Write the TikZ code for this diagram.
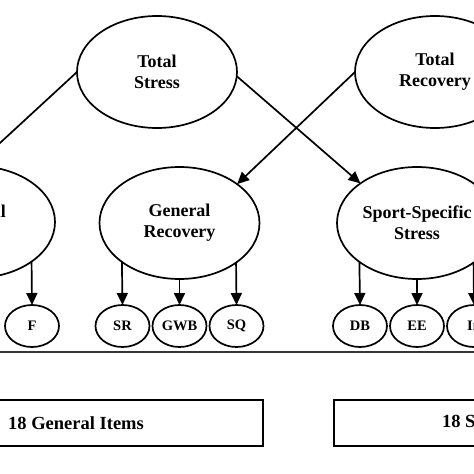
\documentclass[tikz,border=0pt]{standalone}
\usepackage{fontspec}
\setmainfont{Liberation Serif}
\usetikzlibrary{shapes.geometric,arrows.meta}
\begin{document}
\begin{tikzpicture}[x=1pt,y=-1pt,
  big/.style={ellipse,draw,line width=1.7pt,minimum width=160pt,minimum height=112pt,inner sep=0pt,outer sep=0pt,align=center,font=\fontsize{18}{21}\selectfont\bfseries},
  small/.style={ellipse,draw,line width=1.7pt,minimum width=54pt,minimum height=42pt,inner sep=0pt,outer sep=0pt,font=\fontsize{14.5}{16}\selectfont\bfseries},
  arr/.style={line width=1.7pt,-{Triangle[width=11pt,length=12pt]}},
  itembox/.style={draw,line width=1.7pt,minimum height=46pt,inner sep=0pt,outer sep=0pt,font=\fontsize{18.5}{21}\selectfont\bfseries}]
\useasboundingbox (0,0) rectangle (474,474);
\clip (0,0) rectangle (474,474);
% top level
\node[big] (TS) at (157,72) {Total\\Stress};
\node[big] (TR) at (435,72) {Total\\Recovery};
% second level
\node[big] (GS) at (-25,222) {General\\Stress};
\node[big] (GR) at (179.5,223) {General\\Recovery};
\node[big] (SSS) at (417,223) {Sport-Specific\\Stress};
% scales
\node[small] (F) at (32,326) {F};
\node[small] (SR) at (122.5,326) {SR};
\node[small] (GWB) at (179.5,326) {GWB};
\node[small] (SQ) at (236.5,326) {SQ};
\node[small] (DB) at (360,326) {DB};
\node[small] (EE) at (417,326) {EE};
\node[small] (In) at (474,326) {In};
% connectors
\draw[arr] (TS.west) -- (GS.north);
\draw[arr] (TS.357) -- (SSS.145);
\draw[arr] (TR.180) -- (GR.34);
\draw[arr] (GS.325.1) -- (F.north);
\draw[arr] (GR.214.9) -- (SR.north);
\draw[arr] (GR.south) -- (GWB.north);
\draw[arr] (GR.325.1) -- (SQ.north);
\draw[arr] (SSS.214.9) -- (DB.north);
\draw[arr] (SSS.south) -- (EE.north);
\draw[arr] (SSS.325.1) -- (In.north);
% separator
\coordinate (L0) at (-10,352);
\coordinate (L1) at (490,352);
\draw[line width=1.7pt,black!80] (L0) -- (L1);
% item boxes
\node[itembox,minimum width=374pt] (GI) at (76,423) {18 General Items};
\node[itembox,minimum width=400pt] (SI) at (534,423) {18 Sport-Specific Items};
\end{tikzpicture}
\end{document}
